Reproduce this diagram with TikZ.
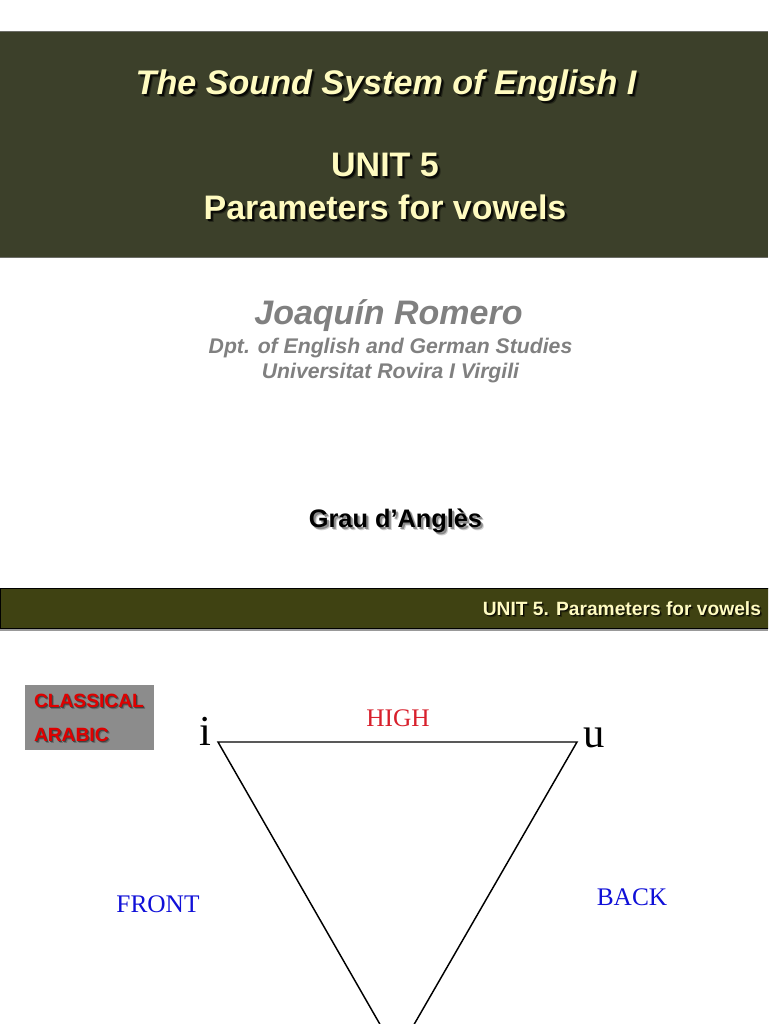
\documentclass[tikz,border=0pt]{standalone}
\usepackage{fontspec}
\setmainfont{Liberation Sans}
\newfontfamily\serifface{Liberation Serif}
\definecolor{banner}{HTML}{3C402A}
\definecolor{bar}{HTML}{3F4212}
\definecolor{cream}{HTML}{FFFBC0}
\definecolor{greytxt}{HTML}{808080}
\definecolor{boxgrey}{HTML}{8C8C8C}
\definecolor{redtxt}{HTML}{E00000}
\definecolor{highred}{HTML}{D8202C}
\definecolor{blueT}{HTML}{1010D8}
\newcommand{\fs}[1]{\fontsize{#1}{#1}\selectfont}
% text with a soft drop shadow: name, position, shadow colour, offset, style, text
\newcommand{\shtext}[6]{%
  \node[txt,#5,text=#3,opacity=.35] (#1s1) at ([shift={(#4+1,#4+1)}]#2) {#6};
  \node[txt,#5,text=#3,opacity=.75] (#1s2) at ([shift={(#4,#4)}]#2) {#6};
  \node[txt,#5] (#1) at (#2) {#6};
}
\tikzset{
  txt/.style={inner sep=0pt,outer sep=0pt},
  titletxt/.style={text=cream,font=\bfseries\fs{25.5}},
  titleit/.style={text=cream,font=\bfseries\itshape\fs{25.6}},
  bartxt/.style={text=cream,font=\bfseries\fs{14.4},anchor=east},
  arabictxt/.style={text=redtxt,font=\bfseries\fs{14.4},anchor=west},
  greyit/.style={text=greytxt,font=\bfseries\itshape},
  labelserif/.style={txt,font=\serifface\fs{19}},
  vowel/.style={txt,font=\serifface\fs{32}},
  edge/.style={draw=black,line width=1.1pt,line join=miter},
}
\begin{document}
\begin{tikzpicture}[x=0.75pt,y=-0.75pt]
\useasboundingbox (0,0) rectangle (768,1024);
\clip (0,0) rectangle (768,1024);
\fill[white] (0,0) rectangle (768,1024);
% title banner
\fill[banner] (0,31) rectangle (768,257);
\draw[gray!70!banner,line width=0.6pt] (0,31) -- (768,31) (0,257) -- (768,257);
\shtext{title}{386,86}{black}{2}{titleit}{The Sound System of English I}
\shtext{unit}{385,165}{black}{2}{titletxt}{UNIT 5}
\shtext{params}{385,207}{black}{2}{titletxt}{Parameters for vowels}
% author
\node[txt,greyit,font=\bfseries\itshape\fs{25.5}] (author) at (388.5,316) {Joaquín Romero};
\node[txt,greyit,font=\bfseries\itshape\fs{15.9}] (dept) at (390.5,348.5) {Dpt. of English and German Studies};
\node[txt,greyit,font=\bfseries\itshape\fs{15.9}] (univ) at (390.5,373.5) {Universitat Rovira I Virgili};
\shtext{grau}{395.5,521}{black!55}{2}{text=black,font=\bfseries\fs{19}}{Grau d’Anglès}
% second slide bar
\fill[black!40] (0,628) rectangle (768,631);
\draw[black,line width=0.7pt,fill=bar] (0,588) rectangle (770,628);
\shtext{bartitle}{761,609}{black}{1}{bartxt}{UNIT 5. Parameters for vowels}
% classical arabic box
\fill[boxgrey] (25,685) rectangle (154,750);
\shtext{classical}{34,701}{black!80}{1}{arabictxt}{CLASSICAL}
\shtext{arabic}{34,735}{black!80}{1}{arabictxt}{ARABIC}
% triangle
\coordinate (front) at (218,742);
\coordinate (back) at (577,742);
\coordinate (low) at (397,1054);
\draw[edge] (front) -- (back) -- (low) -- cycle;
% labels
\node[vowel] (vi) at (205,731) {i};
\node[vowel] (vu) at (594,738) {u};
\node[labelserif,text=highred] (high) at (398,718.5) {HIGH};
\node[labelserif,text=blueT] (frontl) at (158,904.5) {FRONT};
\node[labelserif,text=blueT] (backl) at (632,897.5) {BACK};
\end{tikzpicture}
\end{document}
